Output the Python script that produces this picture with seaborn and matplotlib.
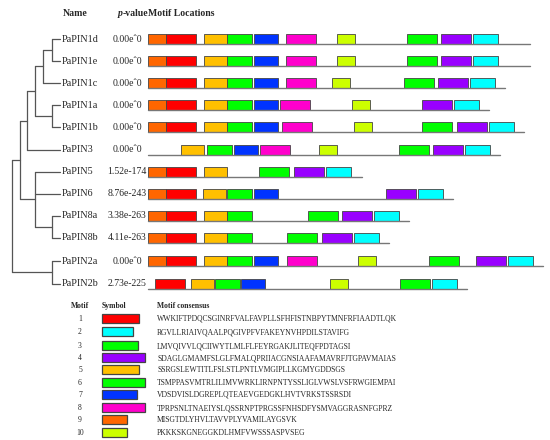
import matplotlib
matplotlib.use("Agg")
import matplotlib.pyplot as plt
import seaborn as sns

sns.set_style("white")
plt.rcParams['font.family'] = ['Liberation Serif', 'DejaVu Serif']

genes = ["PaPIN1d", "PaPIN1e", "PaPIN1c", "PaPIN1a", "PaPIN1b", "PaPIN3",
         "PaPIN5", "PaPIN6", "PaPIN8a", "PaPIN8b", "PaPIN2a", "PaPIN2b"]
pvalues = ["0.00e\u02c60", "0.00e\u02c60", "0.00e\u02c60", "0.00e\u02c60", "0.00e\u02c60", "0.00e\u02c60",
           "1.52e-174", "8.76e-243", "3.38e-263", "4.11e-263", "0.00e\u02c60", "2.73e-225"]
row_y = [39, 61, 83, 105, 127, 150, 172, 194, 216, 238, 261, 284]

# motif ids and start positions (figure x units) per gene
motif_ids = [
    [9, 1, 5, 3, 7, 8, 10, 6, 4, 2],
    [9, 1, 5, 3, 7, 8, 10, 6, 4, 2],
    [9, 1, 5, 3, 7, 8, 10, 6, 4, 2],
    [9, 1, 5, 3, 7, 8, 10, 4, 2],
    [9, 1, 5, 3, 7, 8, 10, 6, 4, 2],
    [5, 3, 7, 8, 10, 6, 4, 2],
    [9, 1, 5, 6, 4, 2],
    [9, 1, 5, 3, 7, 4, 2],
    [9, 1, 5, 3, 6, 4, 2],
    [9, 1, 5, 3, 6, 4, 2],
    [9, 1, 5, 3, 7, 8, 10, 6, 4, 2],
    [1, 5, 3, 7, 10, 6, 2],
]
motif_starts = [
    [148, 166, 204, 227, 254, 286, 337, 407, 441, 473],
    [148, 166, 204, 227, 254, 286, 337, 407, 441, 473],
    [148, 166, 204, 227, 254, 286, 332, 404, 438, 470],
    [148, 166, 204, 227, 254, 280, 352, 422, 454],
    [148, 166, 204, 227, 254, 282, 354, 422, 457, 489],
    [181, 207, 234, 260, 319, 399, 433, 465],
    [148, 166, 204, 259, 294, 326],
    [148, 166, 203, 227, 254, 386, 418],
    [148, 166, 204, 227, 308, 342, 374],
    [148, 166, 204, 227, 287, 322, 354],
    [148, 166, 204, 227, 254, 287, 358, 429, 476, 508],
    [155, 191, 215, 241, 330, 400, 432],
]
line_ends = [530, 530, 505, 489, 524, 500, 362, 453, 409, 389, 543, 467]

motif_len = {1: 30, 2: 25, 3: 25, 4: 30, 5: 23, 6: 30, 7: 24, 8: 30, 9: 18, 10: 18}
motif_col = {1: "#FF0000", 2: "#00FFFF", 3: "#00FF00", 4: "#9900FF", 5: "#FFC000",
             6: "#00FF00", 7: "#0033FF", 8: "#FF00CC", 9: "#FF6600", 10: "#CCFF00"}
legend_motifs = [1, 2, 3, 4, 5, 6, 7, 8, 9, 10]
legend_width = [37, 31, 36, 43, 37, 43, 35, 43, 25, 25]
consensus = [
    "WWKIFTPDQCSGINRFVALFAVPLLSFHFISTNBPYTMNFRFIAADTLQK",
    "RGVLLRIAIVQAALPQGIVPFVFAKEYNVHPDILSTAVIFG",
    "LMVQIVVLQCIIWYTLMLFLFEYRGAKJLITEQFPDTAGSI",
    "SDAGLGMAMFSLGLFMALQPRIIACGNSIAAFAMAVRFJTGPAVMAIAS",
    "SSRGSLEWTITLFSLSTLPNTLVMGIPLLKGMYGDDSGS",
    "TSMPPASVMTRLILIMVWRKLIRNPNTYSSLIGLVWSLVSFRWGIEMPAI",
    "VDSDVISLDGREPLQTEAEVGEDGKLHVTVRKSTSSRSDI",
    "TPRPSNLTNAEIYSLQSSRNPTPRGSSFNHSDFYSMVAGGRASNFGPRZ",
    "MISGTDLYHVLTAVVPLYVAMILAYGSVK",
    "PKKKSKGNEGGKDLHMFVWSSSASPVSEG",
]

fig = plt.figure(figsize=(5.5, 4.4), dpi=100)
ax = fig.add_axes([0, 0, 1, 1])
ax.set_xlim(0, 550)
ax.set_ylim(440, 0)
ax.axis("off")

# headers
ax.text(75, 14, "Name", ha="center", va="center", fontsize=7, fontweight="bold")
ax.text(123, 14, "p", ha="right", va="center", fontsize=7, fontweight="bold", style="italic")
ax.text(123, 14, "-value", ha="left", va="center", fontsize=7, fontweight="bold")
ax.text(148, 14, "Motif Locations", ha="left", va="center", fontsize=7, fontweight="bold")

lc = "#555555"
for g, p, y, ids, starts, end in zip(genes, pvalues, row_y, motif_ids, motif_starts, line_ends):
    ax.text(62, y, g, ha="left", va="center", fontsize=7.3)
    ax.text(127, y, p, ha="center", va="center", fontsize=7)
    ax.plot([148, end], [y + 5, y + 5], color="#777777", lw=1)
    ax.barh([y] * len(ids), [motif_len[m] for m in ids], left=starts, height=10,
            color=[motif_col[m] for m in ids], edgecolor="#444444", linewidth=0.6)

# tree
def hl(x0, x1, y):
    ax.plot([x0, x1], [y, y], color=lc, lw=0.9)
def vl(x, y0, y1):
    ax.plot([x, x], [y0, y1], color=lc, lw=0.9)

Y = dict(zip(genes, row_y))
n_de = (Y["PaPIN1d"] + Y["PaPIN1e"]) / 2
n_dec = (n_de + Y["PaPIN1c"]) / 2
n_ab = (Y["PaPIN1a"] + Y["PaPIN1b"]) / 2
n_1 = (n_dec + n_ab) / 2
n_13 = (n_1 + Y["PaPIN3"]) / 2
n_8 = (Y["PaPIN8a"] + Y["PaPIN8b"]) / 2
n_568 = (Y["PaPIN5"] + n_8) / 2
n_big = (n_13 + n_568) / 2
n_2 = (Y["PaPIN2a"] + Y["PaPIN2b"]) / 2
n_root = (n_big + n_2) / 2

for g in ["PaPIN1d", "PaPIN1e", "PaPIN1a", "PaPIN1b", "PaPIN8a", "PaPIN8b", "PaPIN2a", "PaPIN2b"]:
    hl(52, 60, Y[g])
hl(43, 60, Y["PaPIN1c"]); hl(27, 60, Y["PaPIN3"])
hl(35, 60, Y["PaPIN5"]); hl(35, 60, Y["PaPIN6"])
vl(52, Y["PaPIN1d"], Y["PaPIN1e"]); hl(43, 52, n_de)
vl(43, n_de, Y["PaPIN1c"]); hl(35, 43, n_dec)
vl(52, Y["PaPIN1a"], Y["PaPIN1b"]); hl(35, 52, n_ab)
vl(35, n_dec, n_ab); hl(27, 35, n_1)
vl(27, n_1, Y["PaPIN3"]); hl(20, 27, n_13)
vl(52, Y["PaPIN8a"], Y["PaPIN8b"]); hl(35, 52, n_8)
vl(35, Y["PaPIN5"], n_8); hl(20, 35, n_568)
vl(20, n_13, n_568); hl(12, 20, n_big)
vl(52, Y["PaPIN2a"], Y["PaPIN2b"]); hl(12, 52, n_2)
vl(12, n_big, n_2)

# legend table
ax.text(80, 306, "Motif", ha="center", va="center", fontsize=5.5, fontweight="bold")
ax.text(102, 306, "Symbol", ha="left", va="center", fontsize=5.5, fontweight="bold")
ax.text(157, 306, "Motif consensus", ha="left", va="center", fontsize=5.5, fontweight="bold")
leg_y = [319, 332, 346, 358, 370, 383, 395, 408, 420, 433]
ax.barh(leg_y, legend_width, left=101.5, height=9,
        color=[motif_col[m] for m in legend_motifs], edgecolor="#444444", linewidth=0.9)
for m, y, s in zip(legend_motifs, leg_y, consensus):
    ax.text(80, y, str(m), ha="center", va="center", fontsize=5.5)
    ax.text(157, y, s, ha="left", va="center", fontsize=5.5)

fig.savefig("out.png", dpi=100)
